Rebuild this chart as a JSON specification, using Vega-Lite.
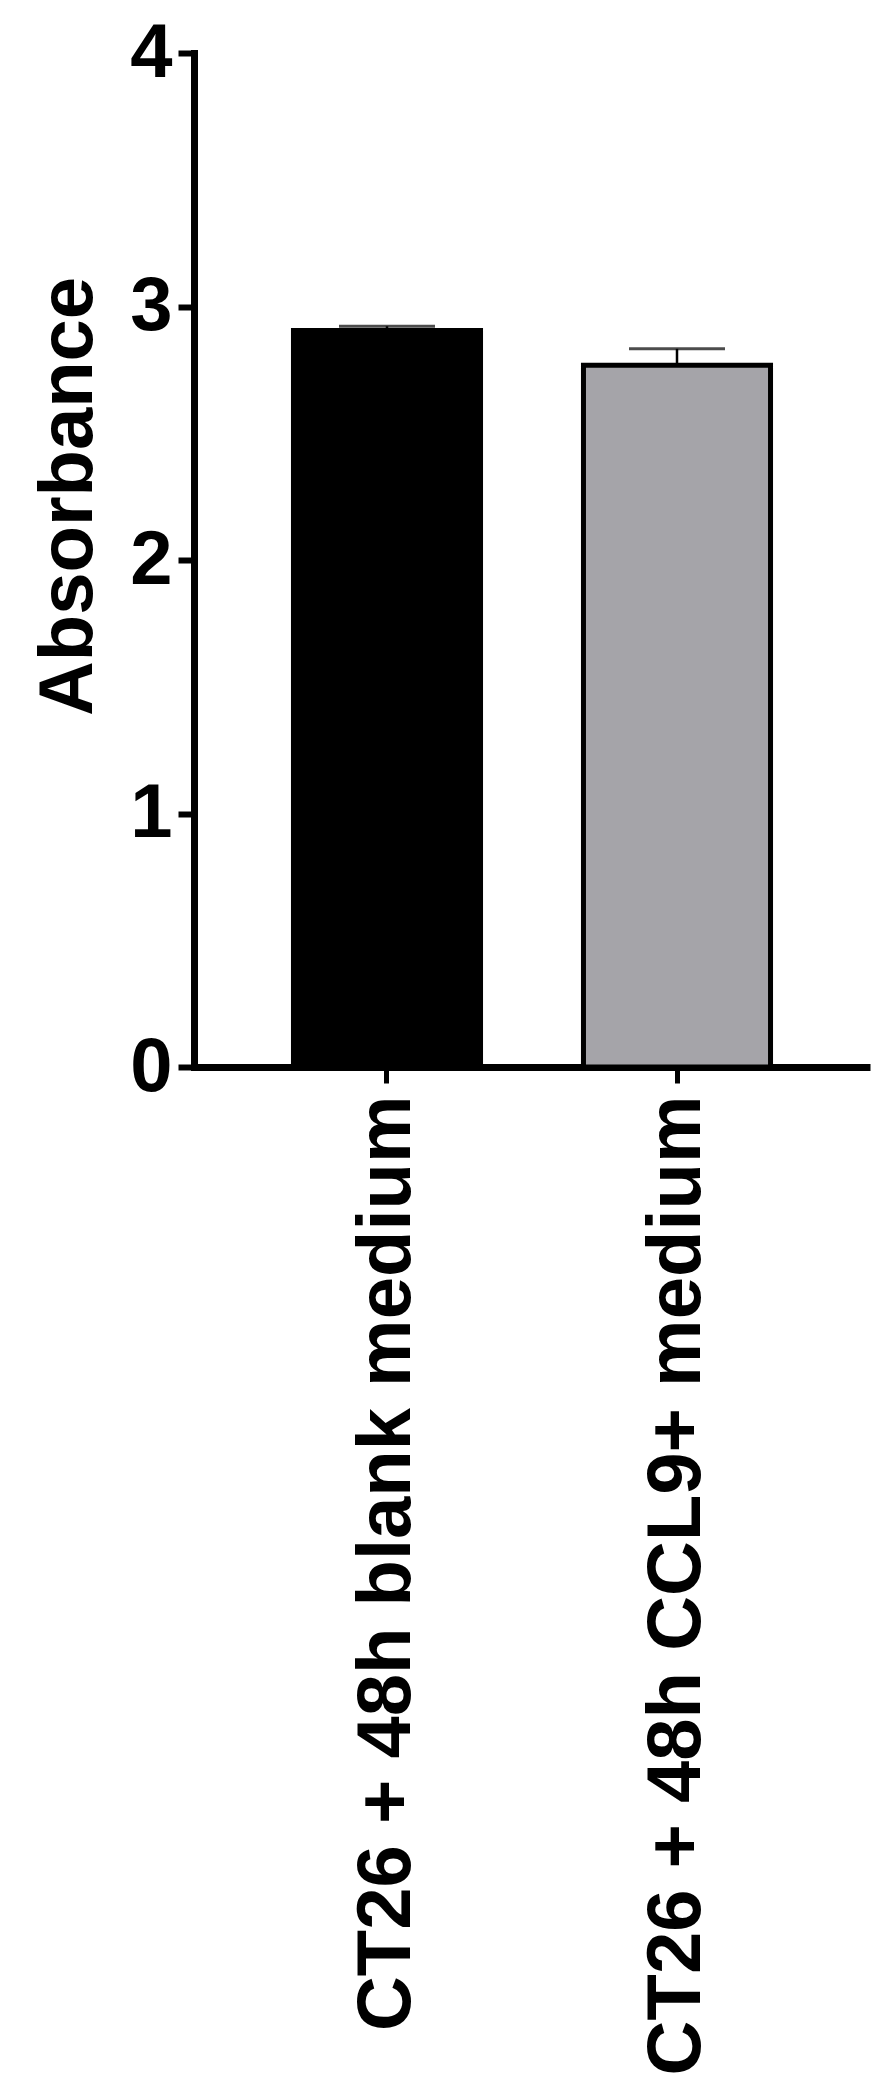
{
  "$schema": "https://vega.github.io/schema/vega-lite/v6.json",
  "width": 676,
  "height": 1014,
  "autosize": {"type": "none"},
  "padding": {"left": 194, "top": 53, "right": 24, "bottom": 1032},
  "background": "white",
  "config": {"view": {"stroke": null}, "font": "Liberation Sans"},
  "data": {
    "values": [
      {"group": "CT26 + 48h blank medium", "mean": 2.905, "upper": 2.922},
      {"group": "CT26 + 48h CCL9+ medium", "mean": 2.768, "upper": 2.833}
    ]
  },
  "encoding": {
    "x": {
      "field": "group",
      "type": "nominal",
      "sort": null,
      "scale": {"paddingInner": 0.355, "paddingOuter": 0.343},
      "axis": {
        "title": null,
        "labelAngle": -90,
        "labelFont": "Liberation Sans",
        "labelFontSize": 76,
        "labelFontWeight": "bold",
        "labelColor": "black",
        "labelPadding": 12,
        "labelLimit": 1500,
        "tickSize": 16,
        "tickWidth": 5,
        "tickColor": "black",
        "domainColor": "black",
        "domainWidth": 7,
        "grid": false
      }
    }
  },
  "layer": [
    {
      "mark": {"type": "bar", "stroke": "black", "strokeWidth": 5},
      "encoding": {
        "y": {
          "field": "mean",
          "type": "quantitative",
          "title": "Absorbance",
          "scale": {"domain": [0, 4]},
          "axis": {
            "title": "Absorbance",
            "values": [0, 1, 2, 3, 4],
            "format": "d",
            "grid": false,
            "domainColor": "black",
            "domainWidth": 7,
            "domainCap": "square",
            "tickColor": "black",
            "tickWidth": 6,
            "tickSize": 16,
            "labelFont": "Liberation Sans",
            "labelFontSize": 76,
            "labelFontWeight": "bold",
            "labelColor": "black",
            "labelPadding": 6,
            "titleFont": "Liberation Sans",
            "titleFontSize": 76,
            "titleFontWeight": "bold",
            "titleColor": "black",
            "titlePadding": 22,
            "titleY": 443
          }
        },
        "fill": {
          "field": "group",
          "type": "nominal",
          "scale": {
            "domain": ["CT26 + 48h blank medium", "CT26 + 48h CCL9+ medium"],
            "range": ["black", "#a5a4a9"]
          },
          "legend": null
        }
      }
    },
    {
      "mark": {"type": "rule", "color": "black", "strokeWidth": 2.5},
      "encoding": {
        "y": {"field": "mean", "type": "quantitative", "title": "Absorbance"},
        "y2": {"field": "upper"}
      }
    },
    {
      "mark": {"type": "tick", "color": "black", "thickness": 3, "size": 96},
      "encoding": {
        "y": {"field": "upper", "type": "quantitative", "title": "Absorbance"}
      }
    }
  ]
}
